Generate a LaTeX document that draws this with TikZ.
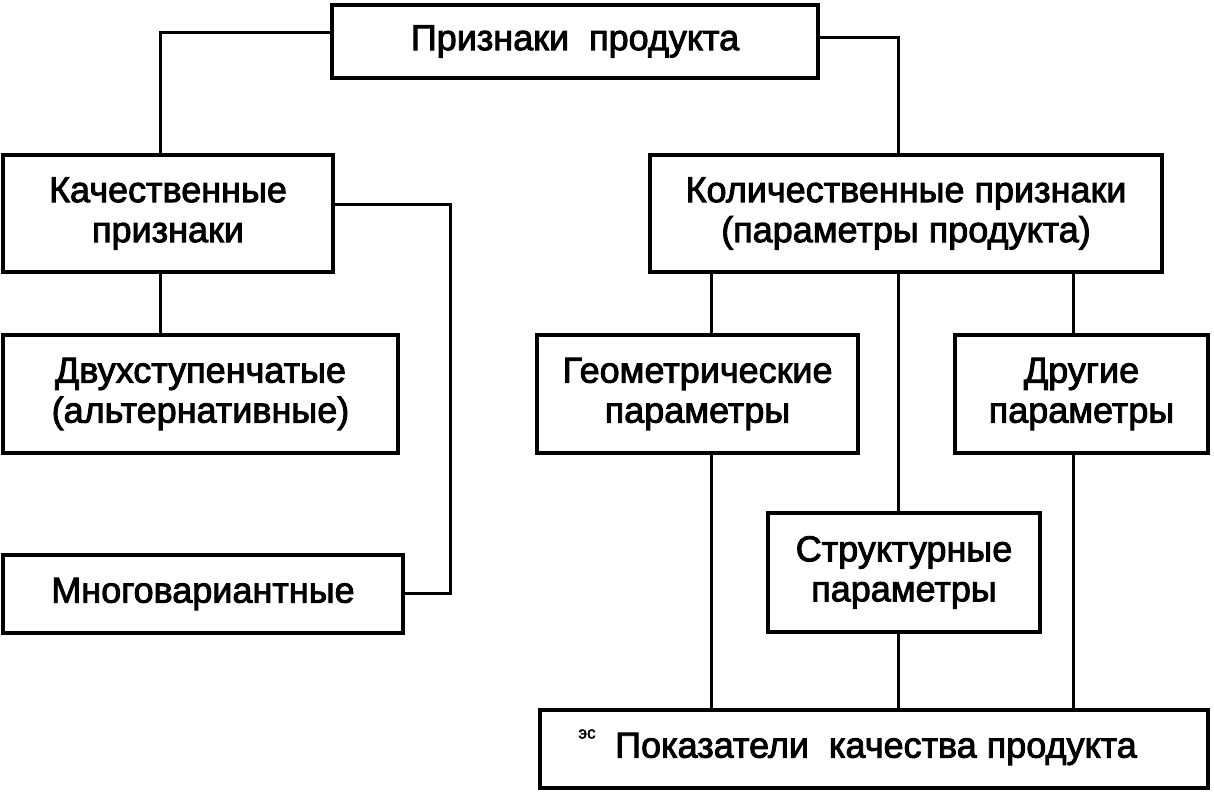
\documentclass[tikz,border=0pt]{standalone}
\usepackage{fontspec}
\setmainfont{Liberation Sans}[FakeBold=2.5]
\begin{document}
\begin{tikzpicture}[x=1pt,y=1pt,
  box/.style={draw, line width=3.5pt, align=center, inner sep=0pt, font=\fontsize{36}{40}\selectfont},
  conn/.style={line width=3pt}]
\useasboundingbox (0,0) rectangle (1214,794);
\node[box, minimum width=486pt, minimum height=73pt] (top) at (575,752.5) {Признаки\ \ продукта};
\node[box, minimum width=330pt, minimum height=117pt] (kach) at (168,580.5) {Качественные\\признаки};
\node[box, minimum width=395pt, minimum height=118pt] (dvuh) at (200.5,400) {Двухступенчатые\\(альтернативные)};
\node[box, minimum width=400pt, minimum height=78pt] (mnogo) at (203,200) {Многовариантные};
\node[box, minimum width=512pt, minimum height=117pt] (kol) at (906,580.5) {Количественные признаки\\(параметры продукта)};
\node[box, minimum width=321pt, minimum height=118pt] (geom) at (697.5,400) {Геометрические\\параметры};
\node[box, minimum width=253pt, minimum height=118pt] (drug) at (1081.5,400) {Другие\\параметры};
\node[box, minimum width=272pt, minimum height=119pt] (strukt) at (904,221.5) {Структурные\\параметры};
\node[box, minimum width=668pt, minimum height=78pt] (pok) at (874,45) {\hspace*{4pt}Показатели\ \ качества продукта};
\node[font=\fontsize{17}{18}\selectfont, inner sep=0pt] (es) at (587,60) {эс};
\coordinate (lx) at (160,0);
\coordinate (rx) at (450,0);
\coordinate (xa) at (711,0);
\coordinate (xb) at (898,0);
\coordinate (xc) at (1073,0);
\draw[conn] ([yshift=8.5pt]top.west) -| (lx |- kach.north);
\draw[conn] ([yshift=3.5pt]top.east) -| (xb |- kol.north);
\draw[conn] (lx |- kach.south) -- (lx |- dvuh.north);
\draw[conn] ([yshift=8.5pt]kach.east) -| (rx |- mnogo.east) -- (mnogo.east);
\draw[conn] (xa |- kol.south) -- (xa |- geom.north);
\draw[conn] (xb |- kol.south) -- (xb |- strukt.north);
\draw[conn] (xc |- kol.south) -- (xc |- drug.north);
\draw[conn] (xa |- geom.south) -- (xa |- pok.north);
\draw[conn] (xb |- strukt.south) -- (xb |- pok.north);
\draw[conn] (xc |- drug.south) -- (xc |- pok.north);
\end{tikzpicture}
\end{document}
